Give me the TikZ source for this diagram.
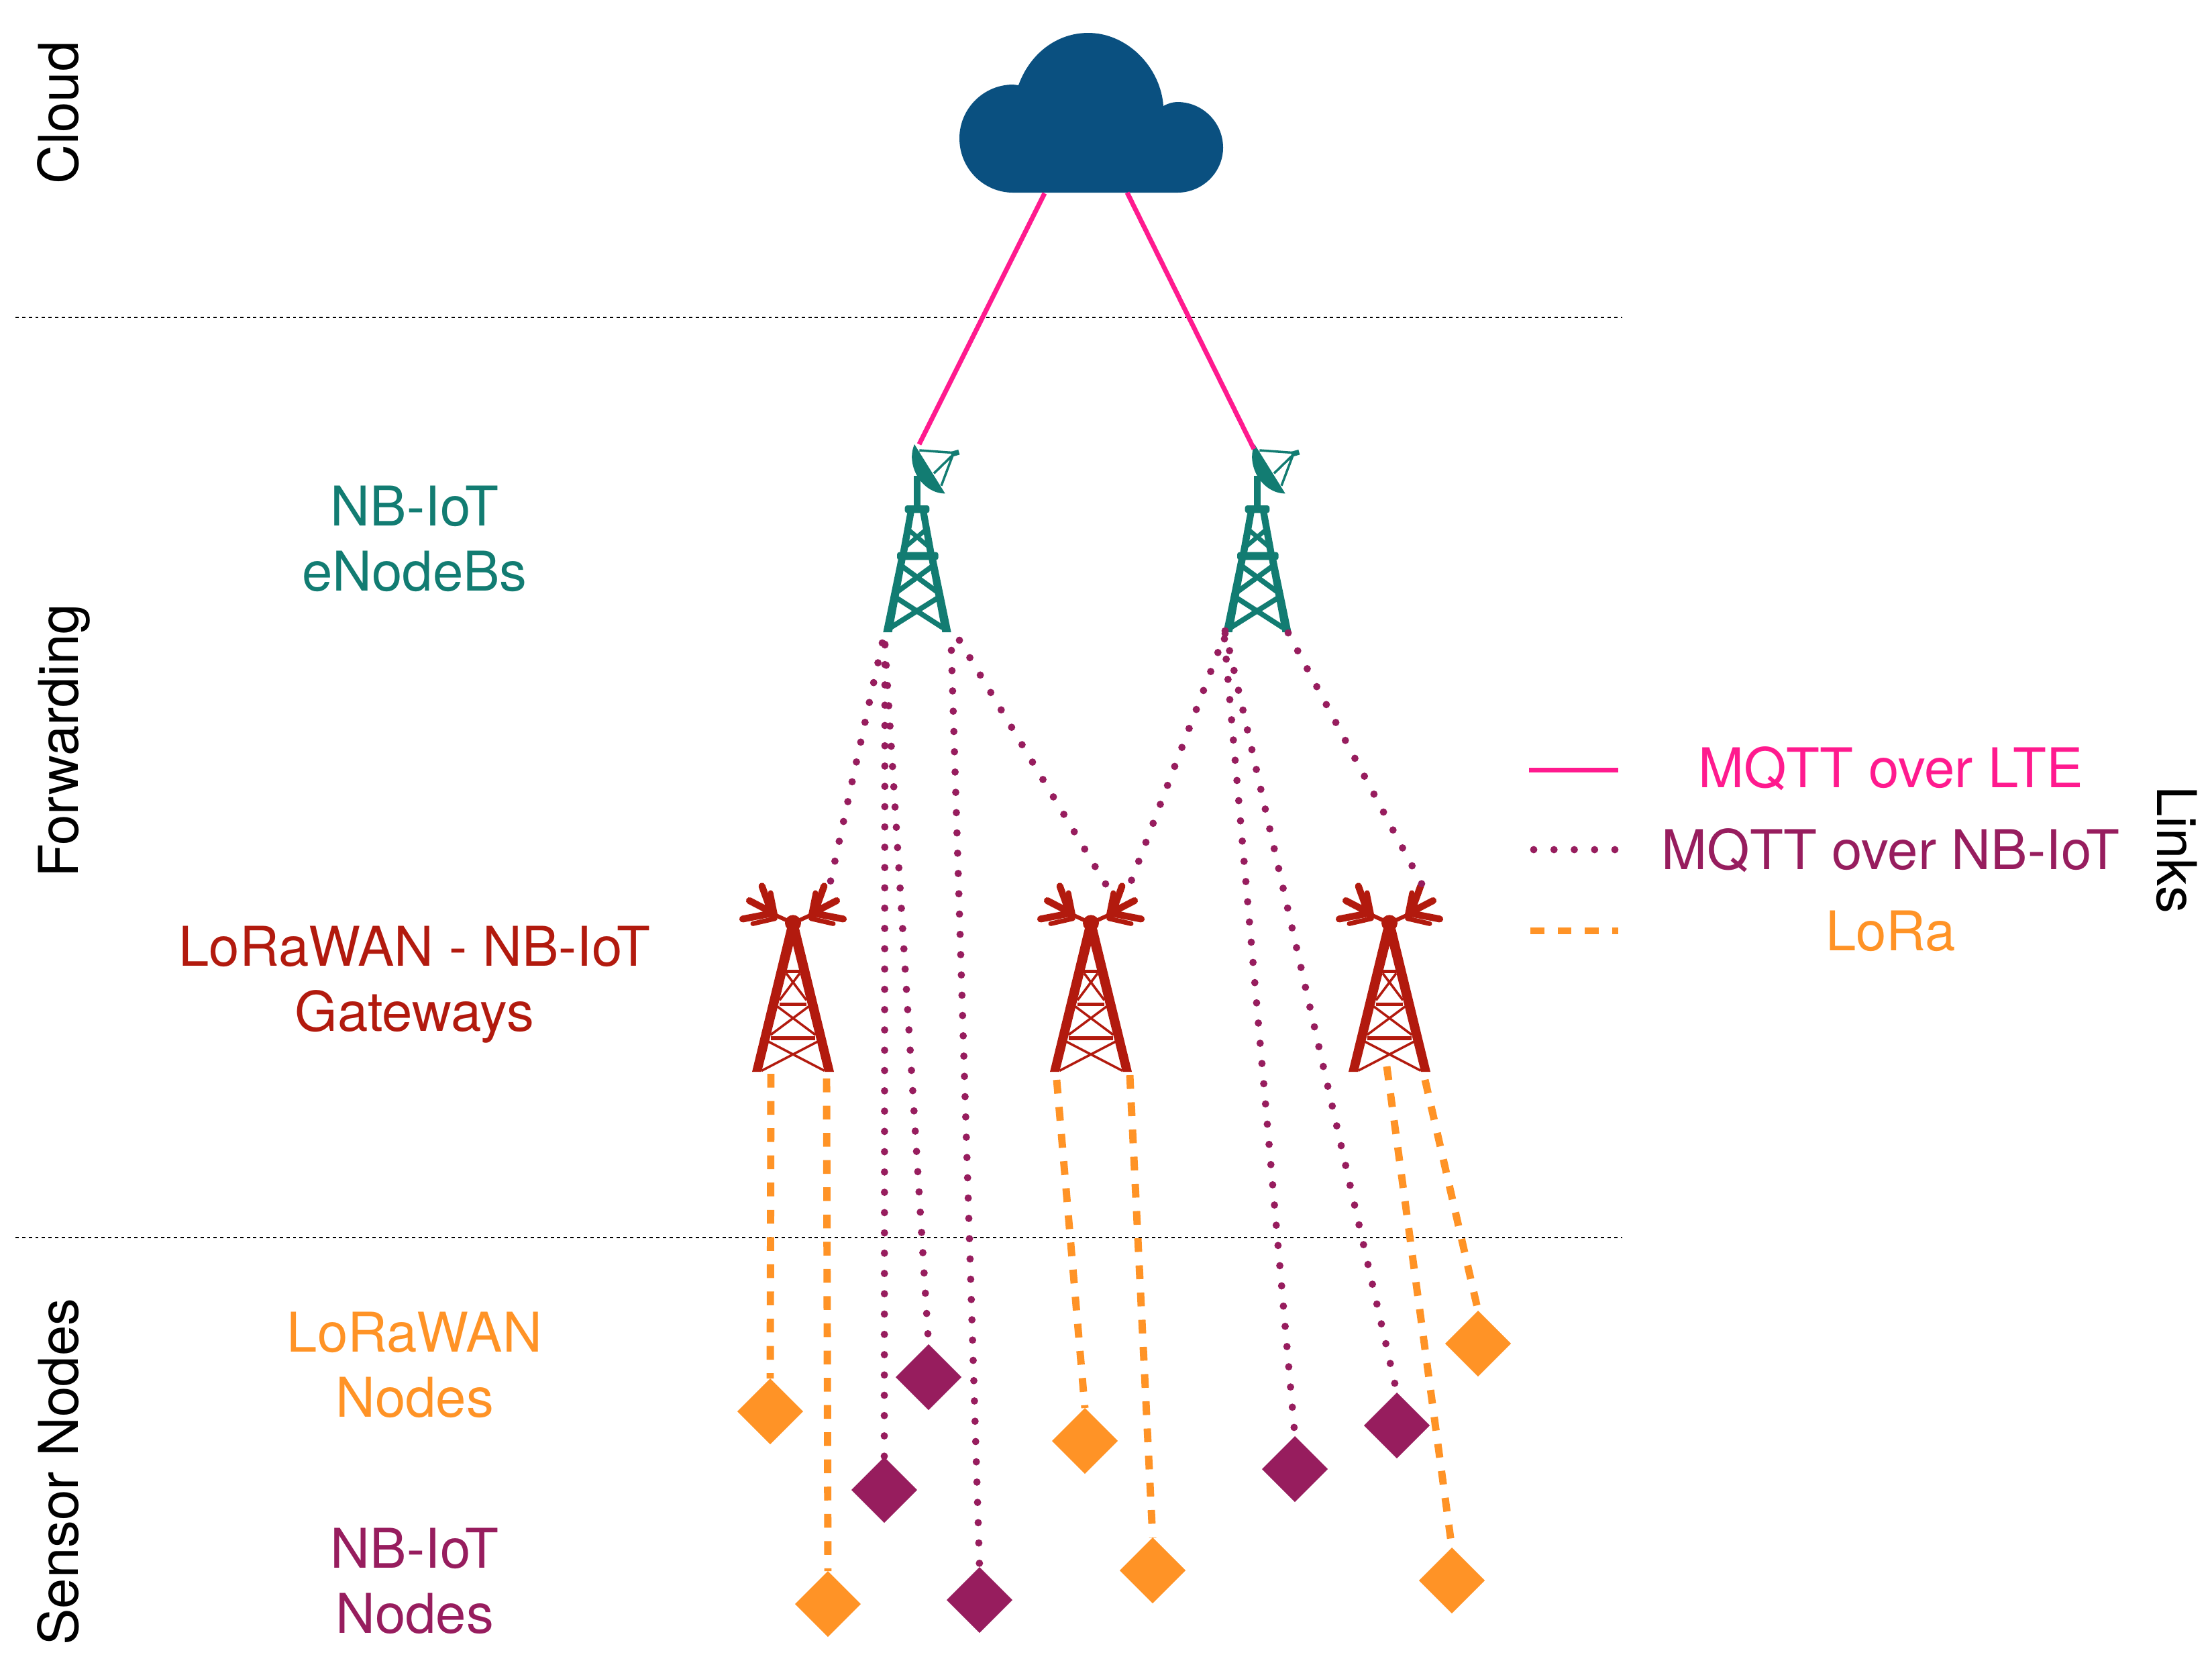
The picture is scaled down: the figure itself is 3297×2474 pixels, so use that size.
\documentclass[tikz,border=0pt]{standalone}
\usepackage{fontspec}
\setmainfont{TeX Gyre Heros}
\usetikzlibrary{shapes.geometric}
\definecolor{navyc}{HTML}{0A5080}
\definecolor{tealc}{HTML}{127C72}
\definecolor{redc}{HTML}{B21A0E}
\definecolor{orangec}{HTML}{FF9326}
\definecolor{purplec}{HTML}{971D5E}
\definecolor{pinkc}{HTML}{FF1A8E}
\tikzset{
  lbl/.style={inner sep=0pt,outer sep=0pt,align=center,font=\fontsize{23.2}{27.5}\selectfont},
  sensor/.style={diamond,aspect=1,inner sep=0pt,outer sep=0pt,minimum width=0.98cm,minimum height=0.98cm,fill=#1},
  sepline/.style={line width=0.7pt,dash pattern=on 1.4pt off 1.4pt},
  mqttlink/.style={pinkc,line width=2pt},
  nblink/.style={purplec,line width=3.1pt,line cap=round,dash pattern=on 0pt off 8.6pt},
  loralink/.style={orangec,line width=3.1pt,dash pattern=on 5.83pt off 5.7pt},
  pics/enb/.style={code={
    \begin{scope}[scale=1/3,shift={(-260,-905)}]
    \fill[tealc](108,905)--(148,905)--(208,580)--(175,580)--cycle(412,905)--(372,905)--(312,580)--(345,580)--cycle;
    \fill[tealc](183,550)--(215,550)--(247,370)--(216,370)--cycle(337,550)--(305,550)--(273,370)--(304,370)--cycle;
    \fill[tealc,rounded corners=1pt](205,338)rectangle(315,372)(170,547)rectangle(355,582);
    \draw[tealc,line width=2.6pt](260,205)--(260,340);
    \draw[tealc,line width=2.2pt](185,605)--(350,725)(335,605)--(170,725)(165,750)--(375,885)(355,750)--(140,885);
    \draw[tealc,line width=1.9pt](225,450)--(320,530)(295,450)--(200,530);
    \fill[tealc](248,65)..controls(228,110)and(235,165)..(262,210)..controls(290,255)and(335,285)..(385,285)--cycle;
    \draw[tealc,line width=1pt](270,92)--(425,103)(335,195)--(420,112)(368,250)--(420,112);
    \draw[tealc,line width=2.2pt](412,110)--(447,100);
    \end{scope}
  }},
  pics/gateway/.style={code={
    \begin{scope}[scale=1/3,shift={(-305,-890)}]
    \fill[redc](122,890)--(164,890)--(305,325)--(446,890)--(488,890)--(330,240)--(280,240)--cycle;
    \fill[redc](305,225)circle(36);
    \draw[redc,line width=1.3pt](275,442)--(335,442)(245,588)--(365,588);
    \draw[redc,line width=1.9pt](205,740)--(405,740);
    \draw[redc,line width=1pt](275,450)--(365,570)(335,450)--(245,570)(235,598)--(405,725)(375,598)--(205,725)(195,755)--(445,885)(415,755)--(165,885);
    \foreach \s in {1,-1}{
      \begin{scope}[shift={(305,0)},xscale=\s]
      \draw[redc,line width=1.7pt](-30,212)--(-78,190);
      \draw[redc,line width=2.9pt,line cap=round](-92,190)--(-139,60)(-105,172)--(-195,125)(-110,185)--(-225,207);
      \draw[redc,line width=2.2pt,line cap=round](-80,190)--(-100,90);
      \draw[redc,line width=2pt,line cap=round](-80,205)--(-180,228);
      \end{scope}}
    \end{scope}
  }}
}
\begin{document}
\begin{tikzpicture}[x=0.01cm,y=-0.01cm]
\useasboundingbox(0,0)rectangle(3297,2474);
% separators and side captions
\coordinate(sepAl)at(23,473);\coordinate(sepAr)at(2418,473);
\coordinate(sepBl)at(23,1844);\coordinate(sepBr)at(2418,1844);
\draw[sepline](sepAl)--(sepAr)(sepBl)--(sepBr);
\node[lbl,rotate=90,anchor=base](capCloud)at(116,168){Cloud};
\node[lbl,rotate=90,anchor=base](capFwd)at(116,1104){Forwarding};
\node[lbl,rotate=90,anchor=base](capSensor)at(116,2193){Sensor Nodes};
\node[lbl,rotate=-90,anchor=base](capLinks)at(3215,1266){Links};
% tier labels
\node[lbl,tealc](lblEnb)at(618,803){NB-IoT\\eNodeBs};
\node[lbl,redc](lblGw)at(618,1467){LoRaWAN - NB-IoT\\Gateways};
\node[lbl,orangec](lblLora)at(618,2034){LoRaWAN\\Nodes};
\node[lbl,purplec](lblNb)at(618,2356){NB-IoT\\Nodes};
% cloud
\fill[navyc](1510,287)..controls(1466,287)and(1430,251)..(1430,206)..controls(1430,162)and(1466,126)..(1510,126)--(1518,127)
  ..controls(1535,80)and(1575,49)..(1622,49)..controls(1680,49)and(1730,100)..(1734,158)
  ..controls(1741,154)and(1748,152)..(1755,152)..controls(1792,152)and(1823,182)..(1823,220)
  ..controls(1823,257)and(1792,287)..(1755,287)--cycle;
% towers
\pic at(1367,942){enb};
\pic at(1874,942){enb};
\pic at(1182,1597){gateway};
\pic at(1626,1597){gateway};
\pic at(2071,1597){gateway};
% sensors
\node[sensor=orangec](loA)at(1148,2103){};
\node[sensor=orangec](loB)at(1234,2390){};
\node[sensor=orangec](loC)at(1617,2147){};
\node[sensor=orangec](loD)at(1718,2340){};
\node[sensor=orangec](loE)at(2203,2002){};
\node[sensor=orangec](loF)at(2164,2355){};
\node[sensor=purplec](nbA)at(1384,2052){};
\node[sensor=purplec](nbB)at(1318,2220){};
\node[sensor=purplec](nbC)at(1460,2384){};
\node[sensor=purplec](nbD)at(1930,2189){};
\node[sensor=purplec](nbE)at(2082,2124){};
% link ends at cloud and towers
\coordinate(cloudL)at(1557,288);\coordinate(cloudR)at(1680,287);
\coordinate(enbAtop)at(1370,662);\coordinate(enbBtop)at(1869,669);
\coordinate(enbAa)at(1315,958);\coordinate(enbAb)at(1319,960);\coordinate(enbAc)at(1319,961);
\coordinate(enbAd)at(1418,969);\coordinate(enbAe)at(1430,954);
\coordinate(enbBa)at(1826,944);\coordinate(enbBb)at(1825,952);\coordinate(enbBc)at(1826,940);\coordinate(enbBd)at(1920,943);
\coordinate(gwAtip)at(1237.5,1315);\coordinate(gwBtipL)at(1649,1319);\coordinate(gwBtipR)at(1686,1313);\coordinate(gwCtip)at(2119,1317);
\coordinate(gwAl)at(1149,1600);\coordinate(gwAr)at(1232,1607);
\coordinate(gwBl)at(1575,1609);\coordinate(gwBr)at(1684,1602);
\coordinate(gwCl)at(2067,1589);\coordinate(gwCr)at(2124,1609);
% links
\draw[mqttlink](cloudL)--(enbAtop)(cloudR)--(enbBtop);
\draw[nblink](enbAa)--(gwAtip)(enbAb)--(nbB.north)(enbAc)--(nbA.north)(enbAd)--(nbC.north)(enbAe)--(gwBtipL);
\draw[nblink](enbBa)--(gwBtipR)(enbBb)--(nbD.north)(enbBc)--(nbE.north)(enbBd)--(gwCtip);
\draw[loralink](gwAl)--(loA.north)(gwAr)--(loB.north)(gwBl)--(loC.north)(gwBr)--(loD.north)(gwCl)--(loF.north)(gwCr)--(loE.north);
% legend
\coordinate(legAl)at(2279,1147);\coordinate(legAr)at(2412,1147);
\coordinate(legBl)at(2286,1266);\coordinate(legBr)at(2412,1266);
\coordinate(legCl)at(2281,1387);\coordinate(legCr)at(2412,1387);
\draw[mqttlink](legAl)--(legAr);
\draw[nblink](legBl)--(legBr);
\draw[loralink](legCl)--(legCr);
\node[lbl,pinkc,anchor=base](txtLte)at(2818,1173){MQTT over LTE};
\node[lbl,purplec,anchor=base](txtNb)at(2818,1295){MQTT over NB-IoT};
\node[lbl,orangec,anchor=base](txtLora)at(2818,1416){LoRa};
\end{tikzpicture}
\end{document}
